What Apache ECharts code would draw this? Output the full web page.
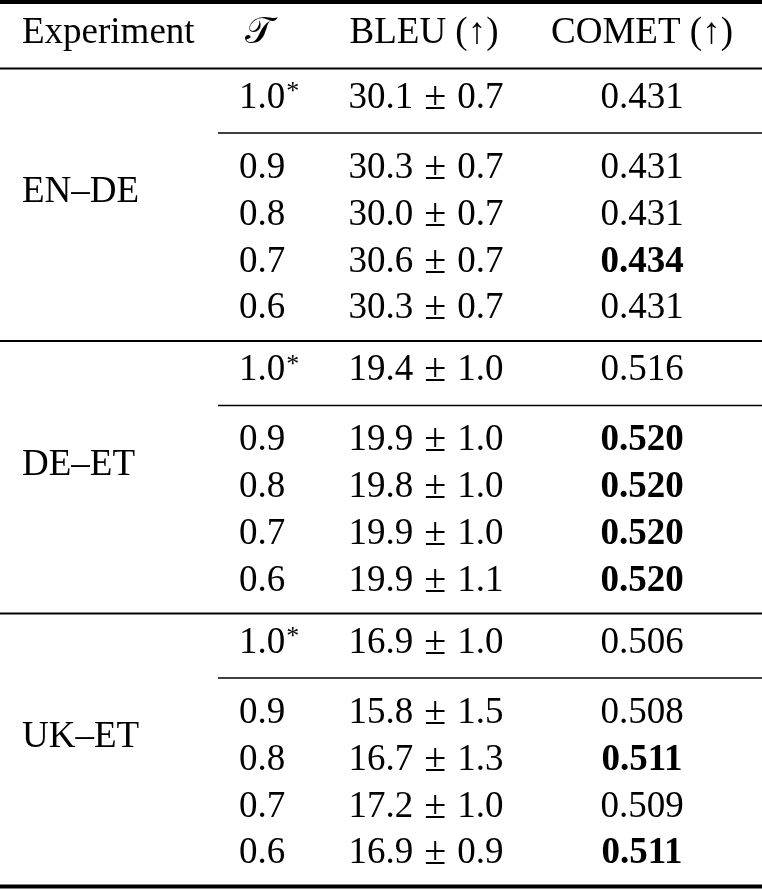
<!DOCTYPE html>
<html><head><meta charset="utf-8">
<script src="https://cdn.jsdelivr.net/npm/echarts@6/dist/echarts.min.js"></script>
<style>html,body{margin:0;padding:0;background:#fff}#c{width:762px;height:891px}</style>
</head><body><div id="c"></div>
<script>
// ---- data ----
const headers = ['Experiment', '𝒯', 'BLEU (↑)', 'COMET (↑)'];
const experiments = ['EN–DE', 'DE–ET', 'UK–ET'];
const temperatures = ['1.0', '0.9', '0.8', '0.7', '0.6'];
const baselineMark = [true, false, false, false, false];
const bleuMean = [
  [30.1, 30.3, 30.0, 30.6, 30.3],
  [19.4, 19.9, 19.8, 19.9, 19.9],
  [16.9, 15.8, 16.7, 17.2, 16.9]
];
const bleuStd = [
  [0.7, 0.7, 0.7, 0.7, 0.7],
  [1.0, 1.0, 1.0, 1.0, 1.1],
  [1.0, 1.5, 1.3, 1.0, 0.9]
];
const comet = [
  [0.431, 0.431, 0.431, 0.434, 0.431],
  [0.516, 0.520, 0.520, 0.520, 0.520],
  [0.506, 0.508, 0.511, 0.509, 0.511]
];

// ---- layout ----
const W = 762, H = 891;
const FONT = '"Liberation Serif","Times New Roman",Times,serif';
const FS = 37;
const TY = 2.5; // vertical nudge of text
const colX = [22, 239, 426, 642];
const colAlign = ['left', 'left', 'center', 'center'];
const headerY = 30.5;
const groupTop0 = 68.5, groupH = 272.5;
const rowOff = [27, 97, 144, 191, 237.5];
const labelOff = 121.5;
const cmidOff = 64.5;
const cmidX0 = 218;

const cells = [];
const headerX = [22, 245, 424, 642];
const headerAlign = ['left', 'left', 'center', 'center'];
headers.forEach((h, i) => cells.push({x: headerX[i], y: headerY + TY, text: h, align: headerAlign[i]}));
const rules = [];
rules.push({x0: 0, x1: W, y: 2, w: 4});
experiments.forEach((exp, g) => {
  const top = groupTop0 + g * groupH;
  rules.push({x0: 0, x1: W, y: top, w: 2.2});
  rules.push({x0: cmidX0, x1: W, y: top + cmidOff, w: 1.6});
  cells.push({x: colX[0], y: top + labelOff + TY, text: exp, align: colAlign[0]});
  const best = Math.max(...comet[g]);
  temperatures.forEach((t, r) => {
    const y = top + rowOff[r] + TY;
    cells.push({x: colX[1], y, text: baselineMark[r] ? t + '{s|*}' : t, align: colAlign[1]});
    cells.push({x: colX[2], y, text: bleuMean[g][r].toFixed(1) + '{pm|±}' + bleuStd[g][r].toFixed(1), align: colAlign[2]});
    cells.push({x: colX[3], y, text: comet[g][r].toFixed(3), align: colAlign[3], bold: comet[g][r] === best});
  });
});
rules.push({x0: 0, x1: W, y: groupTop0 + experiments.length * groupH + 0.5, w: 4});

const chart = echarts.init(document.getElementById('c'), null, {renderer: 'canvas'});
chart.setOption({
  backgroundColor: '#fff',
  animation: false,
  grid: {left: 0, right: 0, top: 0, bottom: 0},
  xAxis: {type: 'value', min: 0, max: W, show: false},
  yAxis: {type: 'value', min: 0, max: H, inverse: true, show: false},
  series: [
    {
      type: 'custom', clip: false, silent: true,
      data: rules.map(r => [r.x0, r.y, r.x1, r.w]),
      renderItem: (params, api) => {
        const a = api.coord([api.value(0), api.value(1)]);
        const b = api.coord([api.value(2), api.value(1)]);
        return {type: 'rect', shape: {x: a[0], y: a[1] - api.value(3) / 2, width: b[0] - a[0], height: api.value(3)}, style: {fill: '#000'}};
      }
    },
    {
      type: 'custom', clip: false, silent: true,
      data: cells.map(c => [c.x, c.y]),
      renderItem: (params, api) => {
        const c = cells[params.dataIndex];
        const p = api.coord([api.value(0), api.value(1)]);
        return {
          type: 'text', x: p[0], y: p[1],
          style: {
            text: c.text, fill: '#000',
            font: (c.bold ? 'bold ' : '') + FS + 'px ' + FONT,
            align: c.align, verticalAlign: 'middle',
            rich: {
              s: {fontSize: 26, fontFamily: FONT, verticalAlign: 'top', fill: '#000', padding: [0, 0, 0, 1]},
              pm: {fontSize: 40, fontFamily: FONT, fill: '#000', padding: [0, 11, 0, 11]}
            }
          }
        };
      }
    }
  ]
});
</script></body></html>
